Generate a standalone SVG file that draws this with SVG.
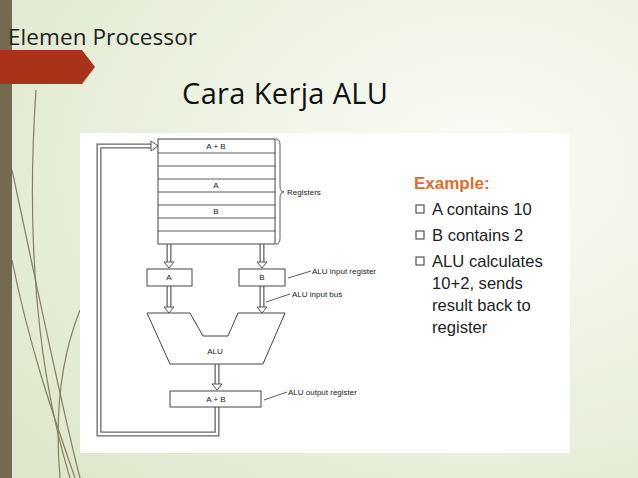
<svg xmlns="http://www.w3.org/2000/svg" width="638" height="478" viewBox="0 0 638 478">
<defs>
<radialGradient id="bg" cx="0.75" cy="0.35" r="0.9"><stop offset="0" stop-color="#fbfcf7"/><stop offset="1" stop-color="#dfe8cc"/></radialGradient>
<style>
.t{font-family:"Liberation Sans",Arial,sans-serif;fill:#222}
.s{font-size:8px}
.b{fill:#fff;stroke:#444;stroke-width:1}
.bo{fill:none;stroke:#666;stroke-width:5}
.bi{fill:none;stroke:#fff;stroke-width:2.4}
.ah{fill:#fff;stroke:#555;stroke-width:1}
.ln{stroke:#333;stroke-width:0.8;fill:none}
.r{font-family:"Liberation Sans",Arial,sans-serif;font-size:16.6px;fill:#222}
</style>
</defs>
<rect width="638" height="478" fill="url(#bg)"/>
<g fill="none" stroke="#6e6448" stroke-width="1.2" opacity="0.8">
<path d="M12 170 C40 300 60 400 80 478"/>
<path d="M36 90 C25 250 40 380 70 478"/>
<path d="M12 260 C30 350 55 420 75 478"/>
<path d="M80 310 C60 360 55 420 60 478"/>
</g>
<rect x="0" y="0" width="12" height="478" fill="#756a50"/>
<polygon points="0,50 82,50 95,67 82,84 0,84" fill="#a8321a"/>
<text x="8" y="45" font-family="'Open Sans',sans-serif" font-size="22.5" fill="#222" textLength="189">Elemen Processor</text>
<text x="182" y="104" font-family="'Open Sans',sans-serif" font-size="29" fill="#111" textLength="206">Cara Kerja ALU</text>
<rect x="80" y="133" width="490" height="320" fill="#fff"/>
<g id="connectors">
<path class="bo" d="M217 407 V434 H99 V146 H152"/>
<path class="bi" d="M217 407 V434 H99 V146 H152"/>
<polygon class="ah" points="151,141 158,146 151,151"/>
<g id="arrows">
<path class="bo" d="M169 244 V262 M262 244 V262 M169 286 V307 M262 286 V307 M217 364 V384"/>
<path class="bi" d="M169 244 V263 M262 244 V263 M169 286 V308 M262 286 V308 M217 364 V385"/>
<polygon class="ah" points="164,262 174,262 169,268"/>
<polygon class="ah" points="257,262 267,262 262,268"/>
<polygon class="ah" points="164,307 174,307 169,313"/>
<polygon class="ah" points="257,307 267,307 262,313"/>
<polygon class="ah" points="212,384 222,384 217,390"/>
</g>
<path class="ln" d="M288 278 L311 271 M266 302 L290 294 M264 400 L287 392"/>
<path class="ln" d="M276 139 Q280 139 280 145 V186 Q280 192 284 192 Q280 192 280 198 V238 Q280 244 276 244"/>
</g>
<g id="registers">
<rect class="b" x="158" y="139" width="117" height="105"/>
<path class="ln" d="M158 153 H275 M158 166 H275 M158 179 H275 M158 192 H275 M158 205 H275 M158 218 H275 M158 231 H275"/>
<text class="t s" x="216" y="149" text-anchor="middle">A + B</text>
<text class="t s" x="216" y="188" text-anchor="middle">A</text>
<text class="t s" x="216" y="214" text-anchor="middle">B</text>
<text class="t s" x="287" y="195">Registers</text>
</g>
<g id="inA"><rect class="b" x="147" y="269" width="45" height="17"/><text class="t s" x="169" y="280" text-anchor="middle">A</text></g>
<g id="inB"><rect class="b" x="239" y="269" width="46" height="17"/><text class="t s" x="262" y="280" text-anchor="middle">B</text>
<text class="t s" x="312" y="274">ALU input register</text>
<text class="t s" x="292" y="297">ALU input bus</text></g>
<g id="alu"><polygon class="b" points="147,313 190,313 203,336 228,336 238,313 285,313 263,364 170,364"/><text class="t s" x="215" y="354" text-anchor="middle">ALU</text></g>
<g id="out"><rect class="b" x="170" y="391" width="91" height="16"/><text class="t s" x="216" y="402" text-anchor="middle">A + B</text>
<text class="t s" x="288" y="395">ALU output register</text></g>
<g id="example">
<text x="414" y="189" font-family="'Liberation Sans',Arial,sans-serif" font-size="17" font-weight="bold" fill="#e06c2c">Example:</text>
<g fill="none" stroke="#333" stroke-width="1"><rect x="416" y="205" width="8" height="8"/><rect x="416" y="231" width="8" height="8"/><rect x="416" y="257" width="8" height="8"/></g>
<text class="r" x="432" y="215">A contains 10</text>
<text class="r" x="432" y="241">B contains 2</text>
<text class="r" x="432" y="267">ALU calculates</text>
<text class="r" x="432" y="289">10+2, sends</text>
<text class="r" x="432" y="311">result back to</text>
<text class="r" x="432" y="333">register</text>
</g>
</svg>
